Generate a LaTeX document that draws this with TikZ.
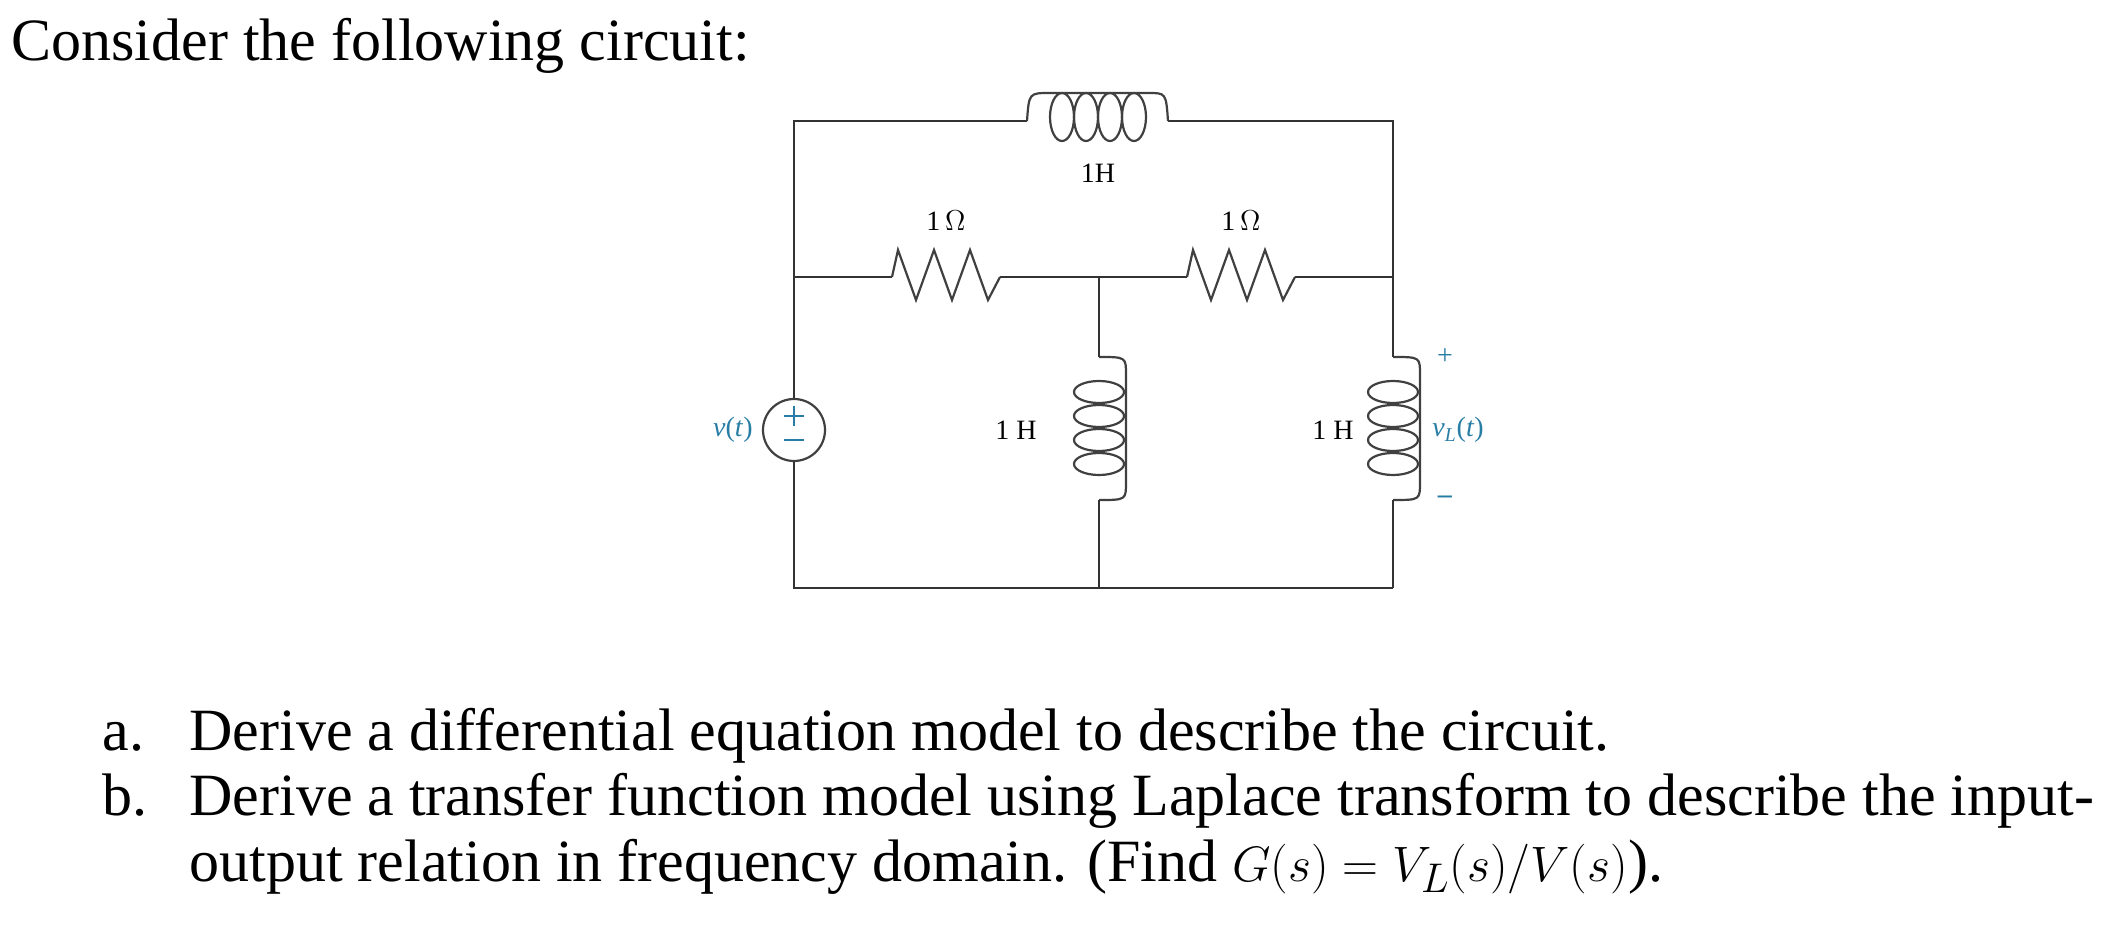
\documentclass[tikz,border=0pt]{standalone}
\usepackage{fontspec}
\setmainfont{Liberation Serif}
\begin{document}
\definecolor{lbl}{RGB}{40,125,165}
\begin{tikzpicture}[x=0.5pt,y=-0.5pt,
  wire/.style={line width=1.3pt,black!80},
  comp/.style={line width=1.1pt,black!75},
  big/.style={anchor=base west,inner sep=0,font=\fontsize{30}{36}\selectfont},
  val/.style={inner sep=0,font=\fontsize{14}{16}\selectfont},
  blu/.style={inner sep=0,text=lbl,font=\fontsize{14}{16}\selectfont}]
\useasboundingbox (0,0) rectangle (2120,940);
\node[big] (title) at (11,61) {Consider the following circuit:};
% junctions
\coordinate (tl) at (794,121); \coordinate (tr) at (1393,121);
\coordinate (ml) at (794,277); \coordinate (mm) at (1099,277); \coordinate (mr) at (1393,277);
\coordinate (bl) at (794,588); \coordinate (bm) at (1099,588); \coordinate (br) at (1393,588);
% top inductor
\coordinate (l1a) at (1027,121); \coordinate (l1b) at (1168,121);
\draw[wire] (ml) -- (tl) -- (l1a);
\draw[wire] (l1b) -- (tr) -- (mr);
\draw[comp] (l1a) .. controls (1029,93) .. (1050,93) -- (1148,93) .. controls (1166,93) .. (l1b);
\foreach \x in {1062,1086,1110,1134} \draw[comp] (\x,117) ellipse [x radius=12, y radius=24];
% resistors
\coordinate (r1a) at (892,277); \coordinate (r1b) at (1000,277);
\coordinate (r2a) at (1187,277); \coordinate (r2b) at (1295,277);
\draw[wire] (ml) -- (r1a);
\draw[comp] (r1a) -- (898,250) -- (916,300) -- (934,250) -- (952,300) -- (970,250) -- (988,300) -- (r1b);
\draw[wire] (r1b) -- (mm) -- (r2a);
\draw[comp] (r2a) -- (1193,250) -- (1211,300) -- (1229,250) -- (1247,300) -- (1265,250) -- (1283,300) -- (r2b);
\draw[wire] (r2b) -- (mr);
% source
\node[draw,circle,comp,minimum size=62pt*0.5,inner sep=0] (src) at (794,430) {};
\draw[wire] (ml) -- (src.north);
\draw[wire] (src.south) -- (bl) -- (br);
\draw[wire,lbl] (784,416) -- (804,416) (794,406) -- (794,426) (784,440) -- (804,440);
\node[blu,anchor=east] (vt) at (753,430) {\textit{v}(\textit{t})};
% vertical inductors
\foreach \n/\x in {m/1099,r/1393}{
  \coordinate (\n a) at (\x,357); \coordinate (\n b) at (\x,500);
  \draw[comp] (\n a) .. controls (\x+27,357) .. (\x+27,375) -- (\x+27,482) .. controls (\x+27,500) .. (\n b);
  \foreach \y in {392,416,440,464} \draw[comp] (\x,\y) ellipse [x radius=25, y radius=11];
}
\draw[wire] (mm) -- (ma); \draw[wire] (mb) -- (bm);
\draw[wire] (mr) -- (ra); \draw[wire] (rb) -- (br);
% labels
\node[val] (l1) at (1098,173) {1H};
\node[val] (r1l) at (946,221) {1\,$\Omega$};
\node[val] (r2l) at (1241,221) {1\,$\Omega$};
\node[val] (l2) at (1016,430) {1 H};
\node[val] (l3) at (1333,430) {1 H};
\node[blu,anchor=west] (vl) at (1432,430) {\textit{v}\textsubscript{\textit{L}}(\textit{t})};
\node[blu] (pl) at (1445,357) {+};
\node[blu] (mi) at (1445,500) {\textbf{--}};
% questions
\node[big] (a) at (102,750) {a.};
\node[big] (qa) at (189,750) {Derive a differential equation model to describe the circuit.};
\node[big] (b) at (102,815) {b.};
\node[big] (qb) at (189,815) {Derive a transfer function model using Laplace transform to describe the input-};
\node[big] (qc) at (189,881) {output relation in frequency domain. (Find $G(s)=V_L(s)/V(s)$).};
\end{tikzpicture}
\end{document}
